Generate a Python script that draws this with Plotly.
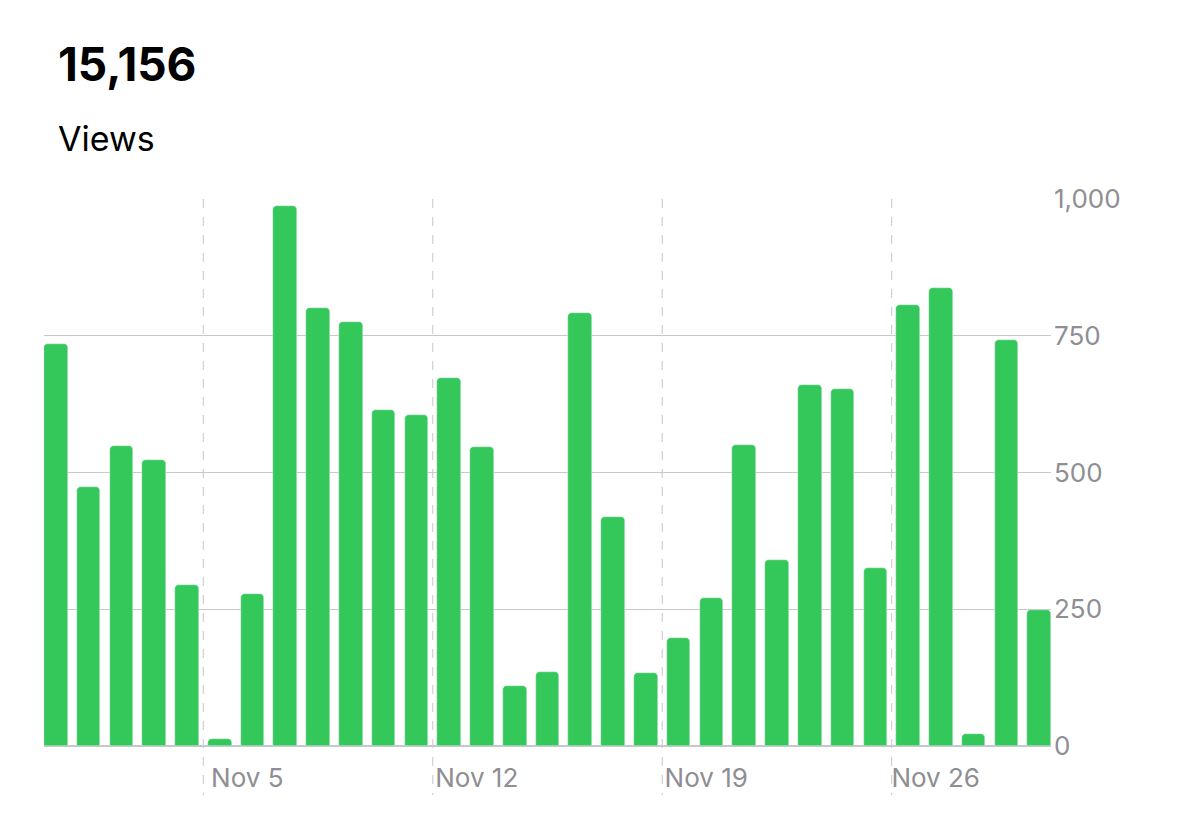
import plotly.graph_objects as go

days = list(range(31))  # Oct 31 .. Nov 30
views = [735, 473, 548, 522, 295, 12, 277, 988, 800, 776, 614, 605, 672, 547, 110,
         135, 792, 418, 133, 197, 271, 550, 340, 660, 653, 326, 806, 838, 22, 743, 248]
tick_pos = [4.5, 11.5, 18.5, 25.5]
tick_text = ["Nov 5", "Nov 12", "Nov 19", "Nov 26"]
total = "15,156"

fig = go.Figure(go.Bar(x=days, y=views, width=0.72, marker_color="#34C759",
                       marker_cornerradius=4))

gray = "#8e8e93"
for t in tick_pos:
    fig.add_shape(type="line", xref="x", yref="paper", x0=t, x1=t, y0=1.0, y1=-0.09,
                  line=dict(color="#c7c7cc", width=1, dash="dash"), layer="below")

fig.add_annotation(text="<b>" + total + "</b>", xref="paper", yref="paper", x=0.012, y=1.0,
                   xanchor="left", yanchor="bottom", yshift=105, showarrow=False,
                   font=dict(size=46, color="black"))
fig.add_annotation(text="Views", xref="paper", yref="paper", x=0.012, y=1.0,
                   xanchor="left", yanchor="bottom", yshift=38, showarrow=False,
                   font=dict(size=34, color="black"))

fig.update_layout(
    width=1179, height=836, margin=dict(l=36, r=136, t=191, b=98),
    plot_bgcolor="white", paper_bgcolor="white", showlegend=False,
    font=dict(family="Inter, Roboto, sans-serif", size=26, color=gray),
    xaxis=dict(range=[-0.36, 30.36], tickvals=tick_pos, ticktext=tick_text,
               showgrid=False, zeroline=False, ticks="", ticklabelshift=44,
               ticklabelstandoff=14),
    yaxis=dict(range=[0, 1000], side="right", tickvals=[0, 250, 500, 750, 1000],
               tickformat=",", gridcolor="#c7c7cc", gridwidth=1, zeroline=True,
               zerolinecolor="#c7c7cc", ticks="", ticklabelstandoff=2),
    bargap=0,
)

fig.write_html("out.html")
